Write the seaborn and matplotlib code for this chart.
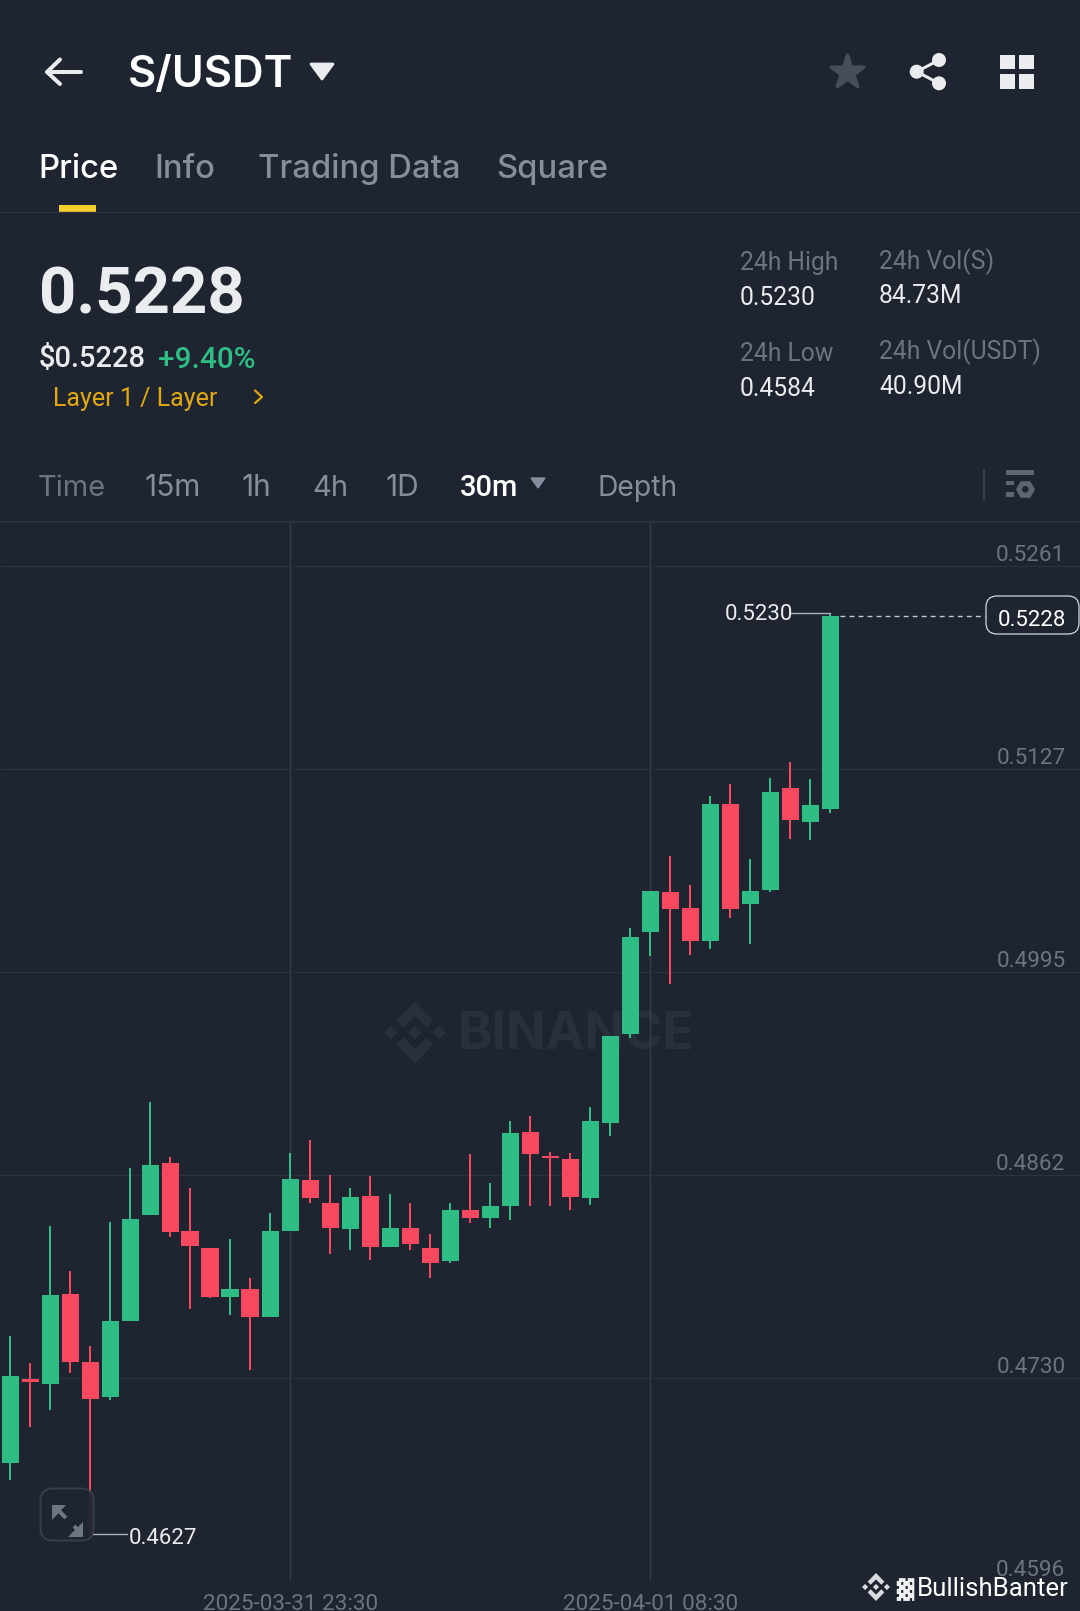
import matplotlib
matplotlib.use("Agg")
import matplotlib.pyplot as plt
import numpy as np
import pandas as pd
import seaborn as sns
from matplotlib.patches import Circle, FancyBboxPatch, Polygon, Rectangle

# candle values, oldest first
highs = [0.47562, 0.47389, 0.48286, 0.47993, 0.47500, 0.48315, 0.48665, 0.49098, 0.48736, 0.48534,
         0.48144, 0.48204, 0.47942, 0.48372, 0.48765, 0.48847, 0.48623, 0.48534, 0.48614, 0.48494,
         0.48434, 0.48232, 0.48434, 0.48756, 0.48565, 0.48976, 0.49009, 0.48774, 0.48767, 0.49067,
         0.49531, 0.50240, 0.50483, 0.50712, 0.50522, 0.51105, 0.51184, 0.50693, 0.51223, 0.51324,
         0.51215, 0.52300]
body_tops = [0.47301, 0.47281, 0.47833, 0.47842, 0.47392, 0.47662, 0.48335, 0.48687, 0.48696, 0.48255,
             0.48144, 0.47873, 0.47873, 0.48255, 0.48596, 0.48585, 0.48434, 0.48477, 0.48483, 0.48275,
             0.48275, 0.48144, 0.48394, 0.48394, 0.48414, 0.48894, 0.48905, 0.48745, 0.48727, 0.48976,
             0.49531, 0.50182, 0.50483, 0.50472, 0.50372, 0.51053, 0.51053, 0.50483, 0.51132, 0.51153,
             0.51044, 0.52280]
body_bottoms = [0.46730, 0.47263, 0.47252, 0.47394, 0.47152, 0.47163, 0.47662, 0.48355, 0.48244, 0.48155,
                0.47824, 0.47824, 0.47693, 0.47693, 0.48255, 0.48468, 0.48275, 0.48266, 0.48146, 0.48146,
                0.48166, 0.48046, 0.48055, 0.48337, 0.48337, 0.48417, 0.48756, 0.48730, 0.48477, 0.48468,
                0.48958, 0.49542, 0.50214, 0.50363, 0.50153, 0.50153, 0.50363, 0.50393, 0.50485, 0.50946,
                0.50935, 0.51016]
lows = [0.46620, 0.46970, 0.47083, 0.47323, 0.46270, 0.47143, 0.47662, 0.48355, 0.48215, 0.47744,
        0.47813, 0.47704, 0.47343, 0.47693, 0.48255, 0.48437, 0.48104, 0.48126, 0.48064, 0.48146,
        0.48126, 0.47944, 0.48044, 0.48306, 0.48275, 0.48326, 0.48414, 0.48414, 0.48394, 0.48426,
        0.48878, 0.49519, 0.50055, 0.49871, 0.50061, 0.50103, 0.50302, 0.50131, 0.50472, 0.50824,
        0.50813, 0.50994]
rising = [1, 0, 1, 0, 0, 1, 1, 1, 0, 0, 0, 1, 0, 1, 1, 0, 0, 1, 0, 1, 0,
          0, 1, 0, 1, 1, 0, 0, 0, 1, 1, 1, 1, 0, 0, 1, 0, 1, 1, 0, 1, 1]

# gridlines are evenly spaced, the app rounds the labels
price_ticks = [0.5261, 0.5128, 0.4995, 0.4862, 0.4729, 0.4596]
price_labels = ["0.5261", "0.5127", "0.4995", "0.4862", "0.4730", "0.4596"]
time_ticks = [14, 32]
time_labels = ["2025-03-31 23:30", "2025-04-01 08:30"]

BG = "#1e2530"
GREEN = "#2ebd85"
RED = "#f84960"
LIGHT = "#eaecef"
MUTED = "#848e9c"
DIM = "#6c7482"
LINE = "#2b323d"
WIDE = ["Inter", "DejaVu Sans"]

sns.set_theme(style="dark", rc={"axes.facecolor": BG, "figure.facecolor": BG, "savefig.facecolor": BG})
plt.rcParams["font.family"] = ["Roboto", "DejaVu Sans"]

candles = pd.DataFrame({"idx": np.arange(len(highs)), "high": highs, "top": body_tops,
                        "bottom": body_bottoms, "low": lows, "rising": rising})
candles["body"] = candles["top"] - candles["bottom"]
candles["wick"] = candles["high"] - candles["low"]

W, H = 1080, 1611
fig = plt.figure(figsize=(W / 100, H / 100), dpi=100)


def pixel_axes(zorder):
    a = fig.add_axes([0, 0, 1, 1], zorder=zorder)
    a.set_xlim(0, W)
    a.set_ylim(H, 0)
    a.axis("off")
    return a


back = pixel_axes(0)
ax = fig.add_axes([0, (H - 1581) / H, 1, (1581 - 522) / H], zorder=1)
ax.patch.set_alpha(0)
ui = pixel_axes(2)


def label(a, x, y, s, size, color, weight="normal", ha="left", family=None):
    a.text(x, y, s, fontsize=size, color=color, fontweight=weight, ha=ha, va="baseline",
           family=family or plt.rcParams["font.family"])


def stroke(a, xs, ys, color, width, **kws):
    a.plot(xs, ys, color=color, lw=width / 1.389, solid_capstyle=kws.pop("cap", "round"),
           solid_joinstyle="round", **kws)


def draw_candles(frame, color):
    sns.barplot(data=frame, x="idx", y="wick", bottom=frame["low"].to_numpy(), native_scale=True,
                width=0.11, color=color, saturation=1, errorbar=None, linewidth=0, ax=ax)
    sns.barplot(data=frame, x="idx", y="body", bottom=frame["bottom"].to_numpy(), native_scale=True,
                width=0.87, color=color, saturation=1, errorbar=None, linewidth=0, ax=ax)


def binance_logo(a, cx, cy, r, color):
    # centre, side and chevron parts of the exchange mark
    for dx, dy, s in [(0, 0, 0.22), (-0.78, 0, 0.22), (0.78, 0, 0.22)]:
        a.add_patch(Polygon([(cx + dx * r - s * r, cy), (cx + dx * r, cy - s * r),
                             (cx + dx * r + s * r, cy), (cx + dx * r, cy + s * r)], color=color, lw=0))
    for sign in (-1, 1):
        a.add_patch(Polygon([(cx - 0.6 * r, cy + sign * 0.38 * r), (cx, cy + sign * r), (cx + 0.6 * r, cy + sign * 0.38 * r),
                             (cx + 0.38 * r, cy + sign * 0.16 * r), (cx, cy + sign * 0.54 * r), (cx - 0.38 * r, cy + sign * 0.16 * r)],
                            color=color, lw=0))


# price pane
draw_candles(candles[candles["rising"] == 1], GREEN)
draw_candles(candles[candles["rising"] == 0], RED)

ax.set_xlim(-0.51, 53.49)
ax.set_ylim(0.4596, 0.4596 + (1581 - 522) * 6.552e-5)
ax.set_xlabel("")
ax.set_ylabel("")
ax.set_xticks(time_ticks, time_labels)
ax.set_yticks(price_ticks, price_labels)
ax.yaxis.tick_right()
ax.tick_params(axis="x", length=0, pad=9, labelsize=16.2, labelcolor=DIM)
ax.tick_params(axis="y", length=0, pad=-10.5, labelsize=16.2, labelcolor=DIM)
for tick in ax.get_yticklabels():
    tick.set_ha("right")
    tick.set_va("bottom")
ax.grid(axis="y", color=LINE, lw=1)
ax.grid(axis="x", color="#373e4a", lw=1)
ax.set_axisbelow(True)
for spine in ax.spines.values():
    spine.set_visible(False)

# last price and extremes
last_close = body_tops[-1]
ax.plot([41.5, 48.72], [last_close, last_close], color="#c4c8cf", lw=1, ls=(0, (3.5, 3)))
ax.plot([38.95, 41], [highs[-1], highs[-1]], color="#aeb3bb", lw=1)
ax.plot([4.1, 5.85], [min(lows), min(lows)], color="#aeb3bb", lw=1)
label(ui, 725, 620.5, "0.5230", 16, LIGHT)
label(ui, 129, 1544.5, "0.4627", 16, LIGHT)
ui.add_patch(FancyBboxPatch((991, 601), 83, 28, boxstyle="round,pad=5,rounding_size=11",
                            fc=BG, ec="#d5d8dd", lw=0.9))
label(ui, 1031.5, 626.5, "0.5228", 16, "#ffffff", ha="center")

# watermarks
binance_logo(back, 415, 1032.5, 31, "#2a303b")
label(back, 458, 1049, "BINANCE", 37.5, "#2a303b", "bold", family=WIDE)
binance_logo(ui, 876, 1587, 14, "#d9dbdf")
label(ui, 896, 1595, "▓", 16, "#f0f0f0", family=["DejaVu Sans"])
label(ui, 917, 1595.5, "BullishBanter", 18.5, "#ffffff")

# expand button
ui.add_patch(FancyBboxPatch((50, 1498), 34, 33, boxstyle="round,pad=9.5,rounding_size=12",
                            fc=BG, ec="#3a414c", lw=1.4, alpha=0.92))
stroke(ui, [58, 66], [1510, 1518], "#6f7683", 4, cap="butt")
stroke(ui, [74, 82], [1526, 1534], "#6f7683", 4, cap="butt")
ui.add_patch(Polygon([(52, 1505), (66, 1505), (52, 1520)], color="#6f7683", lw=0))
ui.add_patch(Polygon([(83, 1537), (68, 1537), (83, 1522)], color="#6f7683", lw=0))

# header
stroke(ui, [47, 81], [72, 72], LIGHT, 4)
stroke(ui, [60, 47, 60], [59.5, 72, 84], LIGHT, 4)
label(ui, 128, 86.7, "S/USDT", 31.4, "#ffffff", "semibold", family=WIDE)
ui.add_patch(Polygon([(311, 64), (333, 64), (322, 79)], color=LIGHT, lw=2, joinstyle="round"))
ui.scatter([847], [72], s=620, marker="*", color="#474d5a", linewidths=2.5, edgecolors="#474d5a")
stroke(ui, [939, 916.7, 939], [60, 71.7, 83.3], LIGHT, 3)
for cx, cy in [(916.7, 71.7), (939, 60), (939, 83.3)]:
    ui.add_patch(Circle((cx, cy), 7, color=LIGHT, lw=0))
for x0 in (1000.3, 1019.3):
    for y0 in (54.7, 74):
        ui.add_patch(Rectangle((x0, y0), 14.5, 14.6, color=LIGHT, lw=0))

# tabs
label(ui, 38.5, 178, "Price", 23.6, "#ffffff", "medium", family=WIDE)
label(ui, 154.5, 178, "Info", 23.6, MUTED, "medium", family=WIDE)
label(ui, 257.5, 178, "Trading Data", 23.6, MUTED, "medium", family=WIDE)
label(ui, 496, 178, "Square", 23.6, MUTED, "medium", family=WIDE)
ui.add_patch(Rectangle((59, 204.5), 37, 7, color="#f5cf2d", lw=0))
ui.axhline(212, color=LINE, lw=1)

# ticker block
label(ui, 39, 314, "0.5228", 47, LIGHT, "bold")
label(ui, 39, 367.5, "$0.5228", 21, LIGHT, "medium")
label(ui, 158, 367.5, "+9.40%", 21.4, GREEN, "medium")
label(ui, 53, 406, "Layer 1 / Layer", 18, "#e2a90f")
stroke(ui, [255, 262, 255], [390.5, 397, 403], "#e2a90f", 2.2)

stat_names = ["24h High", "24h Low", "24h Vol(S)", "24h Vol(USDT)"]
stat_values = ["0.5230", "0.4584", "84.73M", "40.90M"]
stat_x = [740, 740, 879, 879]
stat_y = [270.3, 361.3, 269.3, 359.3]
stat_value_y = [305, 395.5, 303, 394]
for i in range(4):
    label(ui, stat_x[i], stat_y[i], stat_names[i], 17.7, DIM)
    label(ui, stat_x[i], stat_value_y[i], stat_values[i], 17.7, LIGHT)

# interval row
interval_names = ["Time", "15m", "1h", "4h", "1D", "Depth"]
interval_x = [38, 145, 242, 312, 386, 597]
interval_size = [20.9, 21.5, 21.5, 21, 21.5, 20.4]
for x, name, size in zip(interval_x, interval_names, interval_size):
    label(ui, x, 496, name, size, MUTED if name != "Time" else DIM, family=WIDE)
label(ui, 460, 496, "30m", 21, "#ffffff", "medium")
ui.add_patch(Polygon([(531, 478), (545, 478), (538, 488)], color=MUTED, lw=1))
ui.plot([983.5, 983.5], [470, 499], color="#3a414e", lw=1.5)
ui.add_patch(Rectangle((1006, 470), 28, 4.7, color="#5e6673", lw=0))
ui.add_patch(Rectangle((1006, 480.7), 7.5, 4.7, color="#5e6673", lw=0))
ui.add_patch(Rectangle((1006, 492), 7.5, 4.7, color="#5e6673", lw=0))
ui.scatter([1025.3], [489.3], s=190, marker="H", color="#5e6673", linewidths=0)
ui.add_patch(Circle((1025.3, 489.3), 3.3, color=BG, lw=0))
ui.axhline(522, color=LINE, lw=1.5)

fig.savefig("out.png", dpi=100, facecolor=BG)
